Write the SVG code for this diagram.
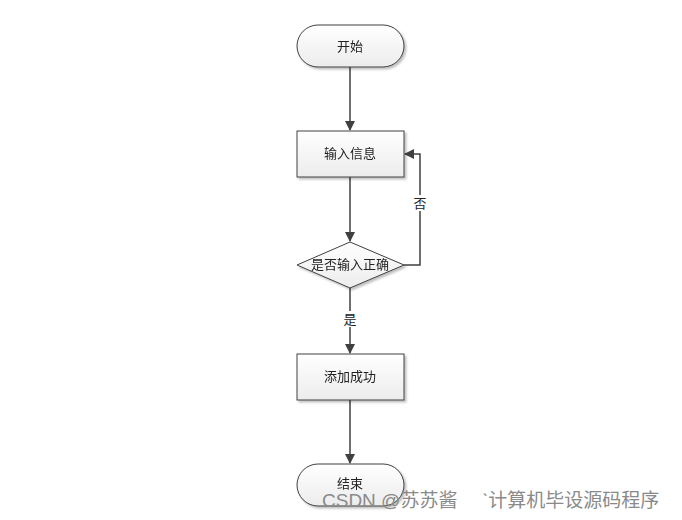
<svg xmlns="http://www.w3.org/2000/svg" width="682" height="520" viewBox="0 0 682 520">
<style>
.node{fill:url(#g);stroke:#404040;stroke-width:1}
.lbl{font-family:"Liberation Serif","Noto Sans CJK SC",serif;font-size:13px;fill:#222;text-anchor:middle}
.edge{fill:none;stroke:#404040;stroke-width:1.5}
.wm{font-family:"Liberation Sans","Noto Sans CJK SC",sans-serif;font-size:19px;fill:#8a8a8a}
</style>
<defs>
<linearGradient id="g" x1="0" y1="0" x2="0" y2="1">
<stop offset="0" stop-color="#ffffff"/>
<stop offset="1" stop-color="#ececec"/>
</linearGradient>
<filter id="sh" x="-10%" y="-10%" width="130%" height="140%">
<feDropShadow dx="2" dy="2" stdDeviation="1.2" flood-color="#000" flood-opacity="0.25"/>
</filter>
<marker id="ah" markerWidth="10" markerHeight="10" refX="9" refY="5" orient="auto" markerUnits="userSpaceOnUse">
<path d="M0,0 L10,5 L0,10 Z" fill="#404040"/>
</marker>
</defs>
<rect width="682" height="520" fill="#fff"/>
<g id="edges">
<line class="edge" x1="350" y1="67" x2="350" y2="130" marker-end="url(#ah)"/>
<line class="edge" x1="350" y1="177" x2="350" y2="241" marker-end="url(#ah)"/>
<polyline class="edge" points="404,265 420,265 420,154 405,154" marker-end="url(#ah)"/>
<rect x="413" y="195" width="15" height="16" fill="#fff"/>
<text class="lbl" x="420" y="208">否</text>
<line class="edge" x1="350" y1="288" x2="350" y2="353" marker-end="url(#ah)"/>
<rect x="342" y="311" width="16" height="16" fill="#fff"/>
<text class="lbl" x="350" y="324">是</text>
<line class="edge" x1="350" y1="400" x2="350" y2="463" marker-end="url(#ah)"/>
</g>
<g id="start" filter="url(#sh)">
<rect class="node" x="297" y="25" width="107" height="42" rx="21" ry="21"/>
<text class="lbl" x="350" y="51">开始</text>
</g>
<g id="input" filter="url(#sh)">
<rect class="node" x="297" y="131" width="107" height="46"/>
<text class="lbl" x="350" y="158">输入信息</text>
</g>
<g id="check" filter="url(#sh)">
<polygon class="node" points="350,242 404,265 350,288 297,265"/>
<text class="lbl" x="350" y="269">是否输入正确</text>
</g>
<g id="add" filter="url(#sh)">
<rect class="node" x="297" y="354" width="107" height="46"/>
<text class="lbl" x="350" y="381">添加成功</text>
</g>
<g id="end" filter="url(#sh)">
<rect class="node" x="297" y="464" width="107" height="42" rx="21" ry="21"/>
<text class="lbl" x="350" y="488">结束</text>
</g>
<text class="wm" x="322" y="507">CSDN @苏苏酱</text>
<text class="wm" x="482" y="507">ˋ计算机毕设源码程序</text>
</svg>
